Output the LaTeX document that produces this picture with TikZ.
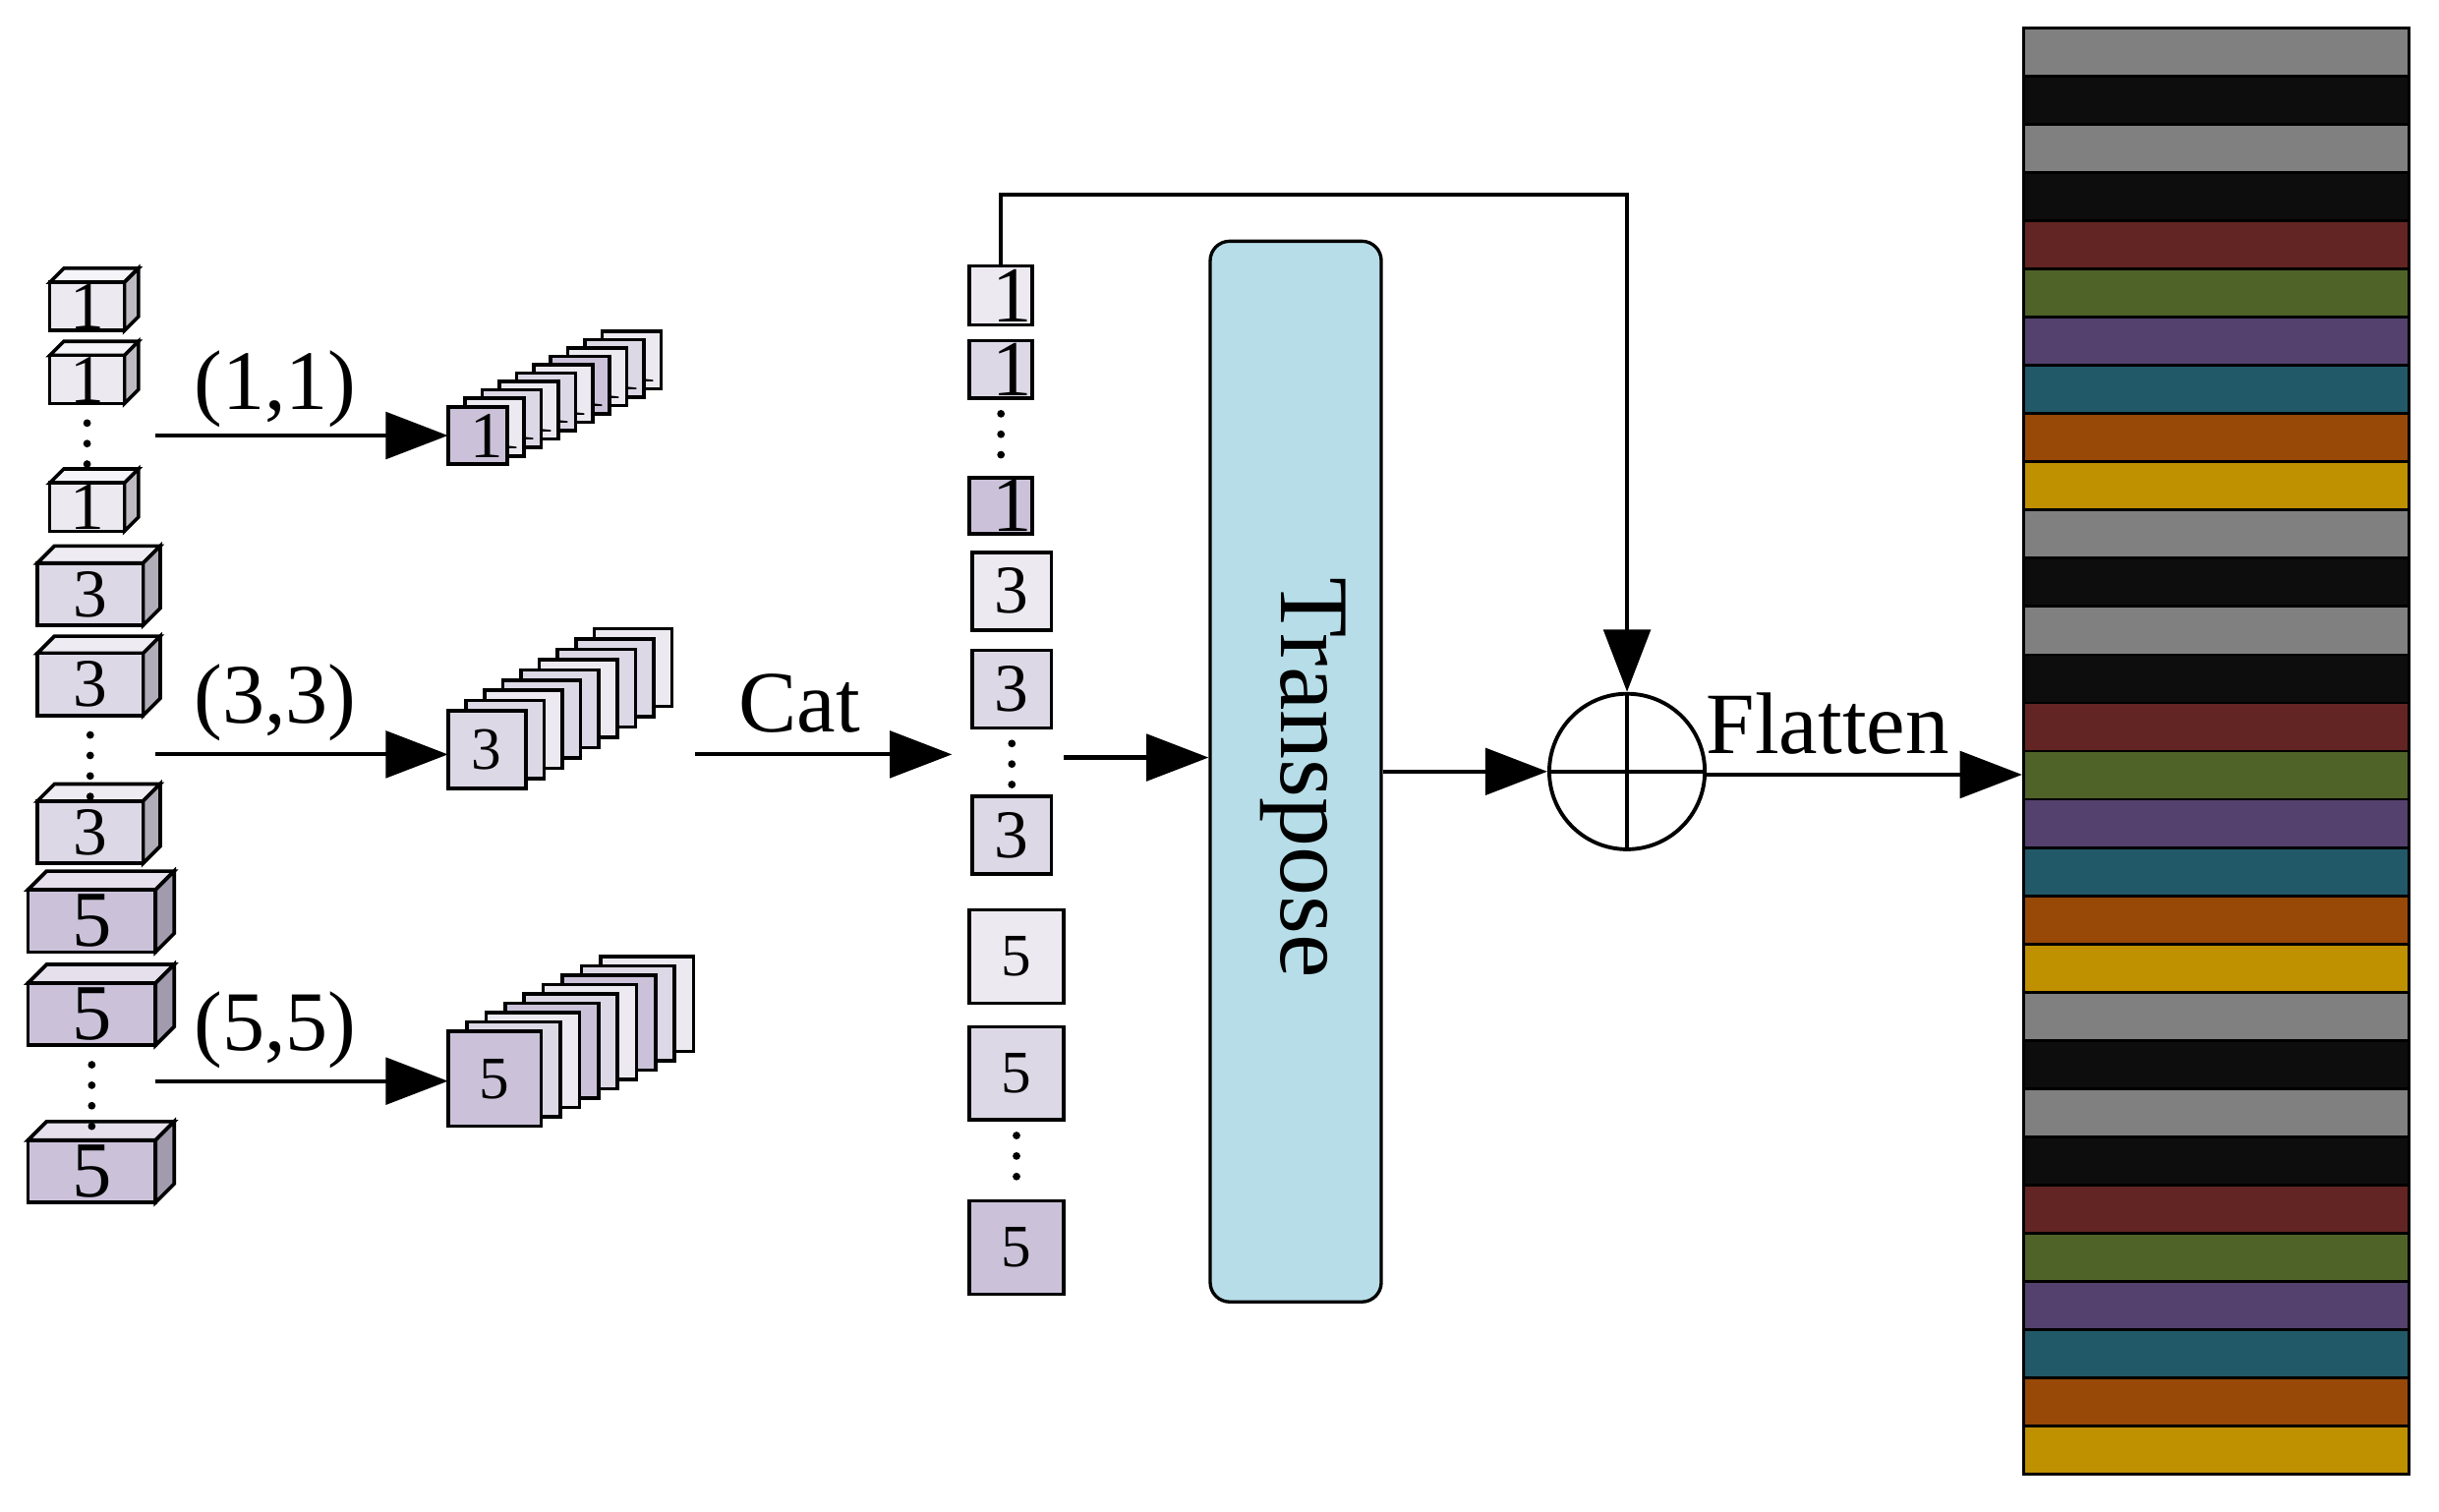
\documentclass[tikz,border=0pt]{standalone}
\usepackage{fontspec}
\setmainfont{Liberation Serif}
\usetikzlibrary{arrows.meta}
\definecolor{cA}{HTML}{ECE9F1}
\definecolor{cB}{HTML}{DDD8E6}
\definecolor{cC}{HTML}{CBC2DA}
\definecolor{tp}{HTML}{B7DEE8}
\definecolor{gr}{HTML}{808080}
\definecolor{bk}{HTML}{0D0D0D}
\definecolor{rd}{HTML}{632523}
\definecolor{gn}{HTML}{4F6228}
\definecolor{pu}{HTML}{54416D}
\definecolor{tl}{HTML}{215968}
\definecolor{og}{HTML}{984807}
\definecolor{gd}{HTML}{BF9000}
\tikzset{
 face/.style={draw=black,line width=1.3pt,inner sep=0pt,outer sep=0pt},
 arr/.style={line width=1.5pt,-{Triangle[length=0.8cm,width=0.6cm]}},
 dots/.style={line width=2.8pt,dash pattern=on 0pt off 7.5pt,line cap=round},
 lab/.style={font=\fontsize{31}{31}\selectfont}
}
\newcommand\mycube[8]{%
\draw[face,fill=#7!50!white] (#2-#4/2,#3-#5/2) -- ++(#6,-#6) -- ++(#4,0) -- ++(-#6,#6) -- cycle;
\draw[face,fill=#7!80!black] (#2+#4/2,#3-#5/2) -- ++(#6,-#6) -- ++(0,#5) -- ++(-#6,#6) -- cycle;
\node[face,fill=#7,minimum width={#4*0.02cm},minimum height={#5*0.02cm}] (#1) at (#2,#3) {#8};}
\begin{document}
\begin{tikzpicture}[x=0.02cm,y=-0.02cm]
\useasboundingbox (0,0) rectangle (1568,972);
% left cubes
\begin{scope}[every node/.append style={font=\fontsize{25}{25}\selectfont}]
\mycube{a1}{56}{197}{48}{31}{9}{cA}{1}
\mycube{a2}{56}{244}{48}{31}{9}{cA}{1}
\mycube{a3}{56}{326}{48}{31}{9}{cA}{1}
\end{scope}
\begin{scope}[every node/.append style={font=\fontsize{25}{25}\selectfont}]
\mycube{b1}{58}{382}{68}{40}{11}{cB}{3}
\mycube{b2}{58}{440}{68}{40}{11}{cB}{3}
\mycube{b3}{58}{535}{68}{40}{11}{cB}{3}
\end{scope}
\begin{scope}[every node/.append style={font=\fontsize{29}{29}\selectfont}]
\mycube{c1}{59}{592}{82}{40}{12}{cC}{5}
\mycube{c2}{59}{652}{82}{40}{12}{cC}{5}
\mycube{c3}{59}{753}{82}{40}{12}{cC}{5}
\end{scope}
\draw[dots] ([yshift=-0.25cm]a2.south) -- (a3.north);
\draw[dots] ([yshift=-0.25cm]b2.south) -- (b3.north);
\draw[dots] ([yshift=-0.25cm]c2.south) -- ([yshift=0.15cm]c3.north);
\coordinate (p1) at (100,280); \coordinate (p2) at (100,485); \coordinate (p3) at (100,695);
% stacks
\foreach \i/\c in {9/cA,8/cB,7/cA,6/cC,5/cA,4/cB,3/cA,2/cB,1/cA,0/cC}
  \node[face,fill=\c,minimum width=0.76cm,minimum height=0.74cm,anchor=west,font=\fontsize{24}{24}\selectfont] (s1-\i) at (288+11*\i,280-5.4*\i) {\hspace{0.25cm}1};
\foreach \i/\c in {8/cA,7/cB,6/cB,5/cA,4/cB,3/cB,2/cA,1/cB,0/cB}
  \node[face,fill=\c,minimum width=1cm,minimum height=1cm,anchor=west,font=\fontsize{22}{22}\selectfont] (s3-\i) at (288+11.75*\i,482-6.6*\i) {\ifnum\i=0 3\fi};
\foreach \i/\c in {8/cA,7/cB,6/cC,5/cA,4/cB,3/cC,2/cA,1/cB,0/cC}
  \node[face,fill=\c,minimum width=1.2cm,minimum height=1.22cm,anchor=west,font=\fontsize{22}{22}\selectfont] (s5-\i) at (288+12.25*\i,693.5-6*\i) {\ifnum\i=0 5\fi};
\draw[arr] (p1) -- (p1 -| s1-0.west);
\draw[arr] (p2) -- (p2 -| s3-0.west);
\draw[arr] (p3) -- (p3 -| s5-0.west);
\node[lab] (l1) at (177,250) {(1,1)};
\node[lab] (l2) at (177,452) {(3,3)};
\node[lab] (l3) at (177,662) {(5,5)};
% middle column
\begin{scope}[every node/.style={face,font=\fontsize{29}{29}\selectfont}]
\node[fill=cA,minimum width=0.74cm,minimum height=0.76cm] (m1) at (643.5,190) {\hspace{0.3cm}1};
\node[fill=cB,minimum width=0.74cm,minimum height=0.74cm] (m2) at (643.5,237.5) {\hspace{0.3cm}1};
\node[fill=cC,minimum width=0.74cm,minimum height=0.72cm] (m3) at (643.5,325) {\hspace{0.3cm}1};
\end{scope}
\begin{scope}[every node/.style={face,font=\fontsize{25}{25}\selectfont}]
\node[fill=cA,minimum width=1.02cm,minimum height=1cm] (n1) at (650.5,380) {3};
\node[fill=cB,minimum width=1.02cm,minimum height=1cm] (n2) at (650.5,443) {3};
\node[fill=cB,minimum width=1.02cm,minimum height=1cm] (n3) at (650.5,537) {3};
\end{scope}
\begin{scope}[every node/.style={face,font=\fontsize{22}{22}\selectfont}]
\node[fill=cA,minimum width=1.22cm,minimum height=1.2cm] (k1) at (653.5,615) {5};
\node[fill=cB,minimum width=1.22cm,minimum height=1.2cm] (k2) at (653.5,690) {5};
\node[fill=cC,minimum width=1.22cm,minimum height=1.2cm] (k3) at (653.5,802) {5};
\end{scope}
\draw[dots] ([yshift=-0.2cm]m2.south) -- ([yshift=0.2cm]m3.north);
\draw[dots] ([yshift=-0.2cm]n2.south) -- ([yshift=0.05cm]n3.north);
\draw[dots] ([yshift=-0.2cm]k2.south) -- ([yshift=0.2cm]k3.north);
\coordinate (catS) at (447,485); \coordinate (catE) at (612,485);
\draw[arr] (catS) -- (catE);
\node[lab,font=\fontsize{32}{32}\selectfont] (cat) at (514,452) {Cat};
% transpose
\node[draw=black,line width=1.2pt,fill=tp,rounded corners=0.25cm,minimum width=2.2cm,minimum height=13.64cm] (T) at (833,496) {};
\node[rotate=-90,font=\fontsize{36}{36}\selectfont] (tt) at (838,500) {Transpose};
\coordinate (tin) at (684,487);
\draw[arr] (tin) -- (T.west |- tin);
\node[draw=black,line width=1.4pt,circle,minimum size=2cm,inner sep=0pt] (O) at (1046,496) {};
\draw[line width=1.4pt] (O.north) -- (O.south) (O.west) -- (O.east);
\draw[arr] (T.east |- O) -- (O.west);
\draw[arr] (m1.north) |- (1046,125) -- (O.north);
% bar
\foreach \c [count=\i from 0] in {gr,bk,gr,bk,rd,gn,pu,tl,og,gd,gr,bk,gr,bk,rd,gn,pu,tl,og,gd,gr,bk,gr,bk,rd,gn,pu,tl,og,gd}
  \node[draw=black,line width=1pt,fill=\c,minimum width=4.96cm,minimum height=0.62cm,inner sep=0pt,anchor=north west] (r\i) at (1300,17+31*\i) {};
\coordinate (fl) at (1300,498);
\draw[arr] (O.east |- fl) -- (fl);
\node[lab,font=\fontsize{32}{32}\selectfont] (flt) at (1175,465) {Flatten};
\end{tikzpicture}
\end{document}
